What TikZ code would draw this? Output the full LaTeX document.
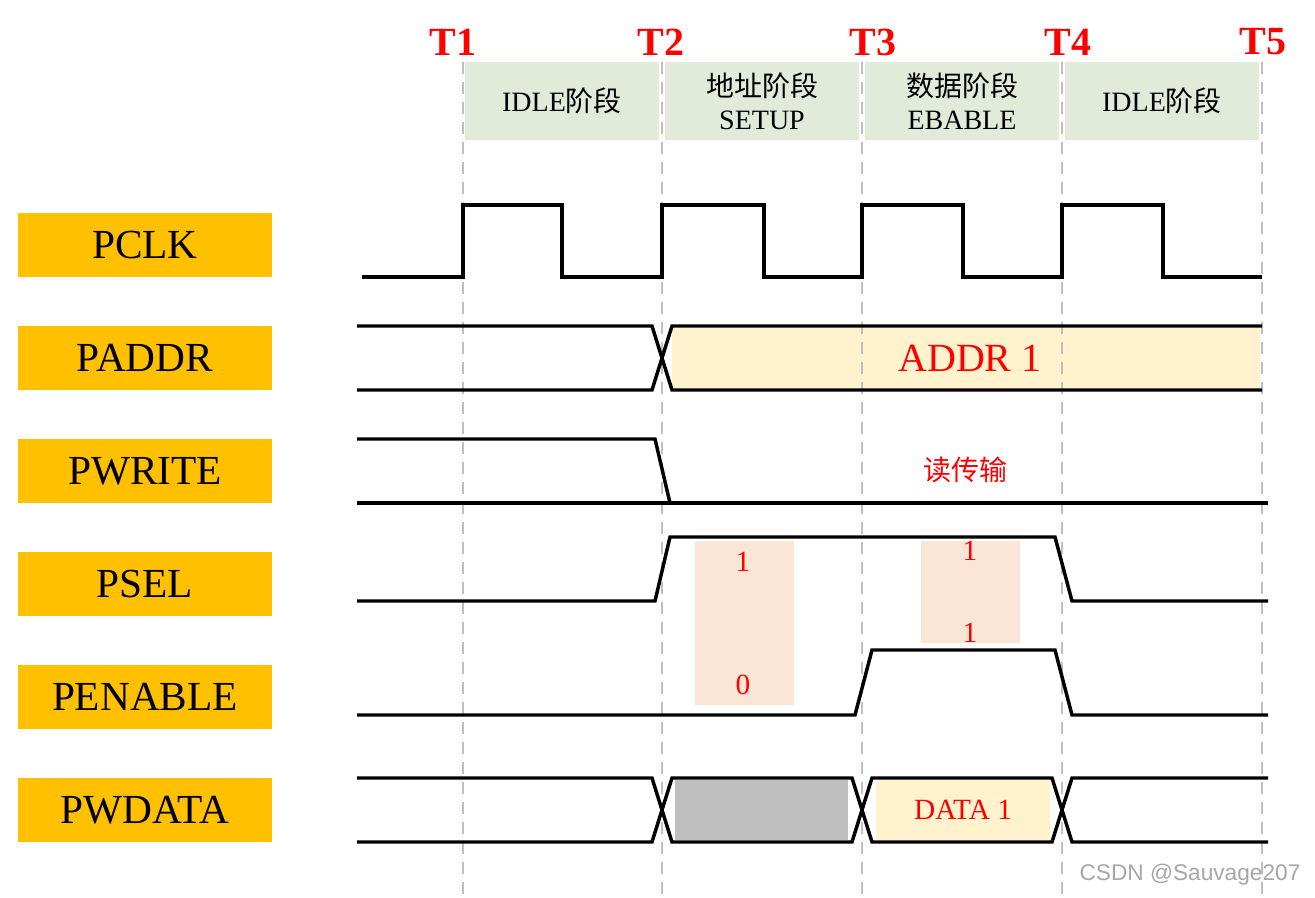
\documentclass[tikz,border=0pt]{standalone}
\usepackage{fontspec}
\setmainfont{Liberation Serif}
\newfontfamily\cjk{Noto Sans CJK SC}
\newfontfamily\wm{Liberation Sans}
\definecolor{lbl}{HTML}{FFC000}
\definecolor{ph}{HTML}{E2EBDA}
\definecolor{yl}{HTML}{FFF2CC}
\definecolor{pk}{HTML}{FBE5D6}
\definecolor{gr}{HTML}{BFBFBF}
\definecolor{dsh}{HTML}{BFBFBF}
\begin{document}
\begin{tikzpicture}[x=0.75pt,y=-0.75pt,
  lblbox/.style={fill=lbl,minimum width=190.5pt,minimum height=48pt,inner sep=0pt,font=\fontsize{31}{31}\selectfont},
  phbox/.style={fill=ph,minimum width=146pt,minimum height=58.5pt,inner sep=0pt,align=center,font=\fontsize{21}{25}\selectfont},
  tlab/.style={text=red,font=\bfseries\fontsize{30}{30}\selectfont},
  sig/.style={line width=2.6pt,line join=miter},
  grid/.style={dsh,line width=2.2pt,dash pattern=on 9pt off 6pt},
  red/.style={text=red}]
\useasboundingbox (0,0) rectangle (1315,897);
% phase boxes
\node[phbox] (p1) at (562,101) {IDLE{\cjk 阶段}};
\node[phbox] (p2) at (762,101) {{\cjk 地址阶段}\\SETUP};
\node[phbox] (p3) at (962,101) {{\cjk 数据阶段}\\EBABLE};
\node[phbox] (p4) at (1162,101) {IDLE{\cjk 阶段}};
% fills
\fill[yl] (672,328) rectangle (1260,388);
\fill[pk] (695,541) rectangle (794,705);
\fill[pk] (921,541) rectangle (1020,643);
\fill[gr] (675,780) rectangle (848,840);
\fill[yl] (876,780) rectangle (1050,840);
% grid
\foreach \x in {463,662,862,1062,1262} \draw[grid] (\x,62) -- (\x,897);
% T labels
\node[tlab] (t1) at (453,42) {T1};
\node[tlab] (t2) at (661,42) {T2};
\node[tlab] (t3) at (873,42) {T3};
\node[tlab] (t4) at (1068,42) {T4};
\node[tlab] (t5) at (1263,42) {T5};
% labels
\node[lblbox] (l1) at (145,245) {PCLK};
\node[lblbox] (l2) at (145,358) {PADDR};
\node[lblbox] (l3) at (145,471) {PWRITE};
\node[lblbox] (l4) at (145,584) {PSEL};
\node[lblbox] (l5) at (145,697) {PENABLE};
\node[lblbox] (l6) at (145,810) {PWDATA};
% PCLK
\draw[sig] (362,277) -- (463,277) -- (463,205) -- (562,205) -- (562,277) -- (662,277) -- (662,205) -- (764,205) -- (764,277) -- (862,277) -- (862,205) -- (963,205) -- (963,277) -- (1062,277) -- (1062,205) -- (1163,205) -- (1163,277) -- (1262,277);
% PADDR
\draw[sig] (357,326) -- (652,326) -- (672,390) -- (1262,390);
\draw[sig] (357,390) -- (652,390) -- (672,326) -- (1262,326);
\node[red,font=\fontsize{30}{30}\selectfont] (addr) at (970,358) {ADDR 1};
% PWRITE
\draw[sig] (357,439) -- (655,439) -- (670,503);
\draw[sig] (357,503) -- (1268,503);
\node[red,font=\cjk\fontsize{21}{21}\selectfont] (rd) at (965,470) {读传输};
% PSEL
\draw[sig] (357,601) -- (655,601) -- (670,537) -- (1055,537) -- (1072,601) -- (1268,601);
\node[red,font=\fontsize{22}{22}\selectfont] (s1) at (743,562) {1};
\node[red,font=\fontsize{22}{22}\selectfont] (s0) at (743,685) {0};
\node[red,font=\fontsize{22}{22}\selectfont] (s2) at (970,551) {1};
\node[red,font=\fontsize{22}{22}\selectfont] (s3) at (970,633) {1};
% PENABLE
\draw[sig] (357,715) -- (855,715) -- (872,650) -- (1055,650) -- (1072,715) -- (1268,715);
% PWDATA
\draw[sig] (357,778) -- (652,778) -- (672,842) -- (852,842) -- (872,778) -- (1052,778) -- (1072,842) -- (1268,842);
\draw[sig] (357,842) -- (652,842) -- (672,778) -- (852,778) -- (872,842) -- (1052,842) -- (1072,778) -- (1268,778);
\node[red,font=\fontsize{22}{22}\selectfont] (d1) at (963,810) {DATA 1};
\node[text=gray!70,font=\wm\fontsize{17}{17}\selectfont] (wm) at (1190,875) {CSDN @Sauvage207};
\end{tikzpicture}
\end{document}
